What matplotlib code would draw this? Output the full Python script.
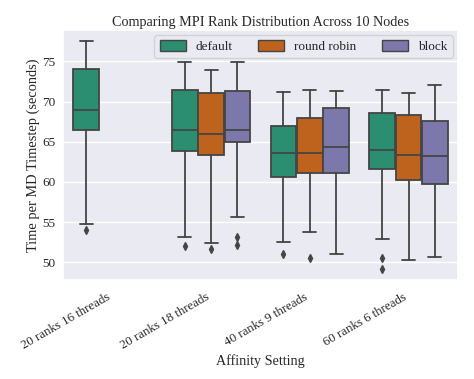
import matplotlib
matplotlib.use("Agg")
import matplotlib.pyplot as plt
from matplotlib.patches import Patch
import seaborn as sns

# affinity settings on the x axis and the three rank placements
settings = ["20 ranks 16 threads", "20 ranks 18 threads",
            "40 ranks 9 threads", "60 ranks 6 threads"]
placements = ["default", "round robin", "block"]

# box statistics, one list per placement
# (None where a setting has no box for that placement)
whislo = {
    "default":     [54.8, 53.1, 52.55, 52.85],
    "round robin": [None, 52.4, 53.8, 50.25],
    "block":       [None, 55.65, 51.05, 50.7],
}
q1 = {
    "default":     [66.4, 63.8, 60.65, 61.65],
    "round robin": [None, 63.35, 61.1, 60.2],
    "block":       [None, 65.0, 61.15, 59.7],
}
med = {
    "default":     [69.0, 66.5, 63.6, 63.95],
    "round robin": [None, 66.0, 63.6, 63.35],
    "block":       [None, 66.5, 64.4, 63.2],
}
q3 = {
    "default":     [74.0, 71.45, 66.9, 68.6],
    "round robin": [None, 71.0, 68.0, 68.3],
    "block":       [None, 71.3, 69.2, 67.55],
}
whishi = {
    "default":     [77.5, 74.9, 71.2, 71.45],
    "round robin": [None, 73.9, 71.45, 71.0],
    "block":       [None, 74.9, 71.25, 72.1],
}
fliers = {
    "default":     [[54.0], [52.0], [51.1], [50.5, 49.2]],
    "round robin": [[], [51.7], [50.6], []],
    "block":       [[], [53.1, 52.2], [], []],
}

sns.set_theme(style="darkgrid")
plt.rcParams["font.family"] = ["Liberation Serif", "DejaVu Serif"]

colors = [sns.desaturate(c, 0.75) for c in sns.color_palette("Dark2", 3)]
line_gray = "#444444"

fig = plt.figure(figsize=(4.74, 3.79), dpi=100)
ax = fig.add_axes([0.133, 0.261, 0.833, 0.66])

n = len(placements)
box_w = 0.8 / n
for k, name in enumerate(placements):
    offset = (k - (n - 1) / 2) * box_w
    for i in range(len(settings)):
        if med[name][i] is None:
            continue
        st = dict(whislo=whislo[name][i], q1=q1[name][i], med=med[name][i],
                  q3=q3[name][i], whishi=whishi[name][i], fliers=fliers[name][i])
        ax.bxp([st], positions=[i + offset], widths=box_w * 0.98,
               patch_artist=True, manage_ticks=False,
               boxprops=dict(facecolor=colors[k], edgecolor=line_gray, linewidth=1.3),
               medianprops=dict(color=line_gray, linewidth=1.3),
               whiskerprops=dict(color=line_gray, linewidth=1.3),
               capprops=dict(color=line_gray, linewidth=1.3),
               flierprops=dict(marker="d", markersize=4, markerfacecolor=line_gray,
                               markeredgecolor=line_gray))

ax.set_xlim(-0.5, len(settings) - 0.5)
ax.set_ylim(47.8, 78.9)
ax.set_xticks(range(len(settings)))
ax.set_xticklabels(settings, rotation=30, ha="right", fontsize=9.3)
ax.set_yticks([50, 55, 60, 65, 70, 75])
ax.tick_params(axis="y", labelsize=9.5, length=0, pad=5.5)
ax.tick_params(axis="x", pad=2)
ax.xaxis.grid(False)

ax.set_xlabel("Affinity Setting", fontsize=10.2, labelpad=2)
ax.set_ylabel("Time per MD Timestep (seconds)", fontsize=10.4, labelpad=1.5)
ax.set_title("Comparing MPI Rank Distribution Across 10 Nodes", fontsize=10.2, pad=3)

handles = [Patch(facecolor=colors[k], edgecolor=line_gray, label=placements[k])
           for k in range(n)]
ax.legend(handles=handles, loc="upper right", ncol=3, fontsize=9.5,
          handlelength=2.0, handleheight=0.8, handletextpad=0.75,
          columnspacing=1.9, borderaxespad=0.4)

plt.savefig("out.png", dpi=100)
